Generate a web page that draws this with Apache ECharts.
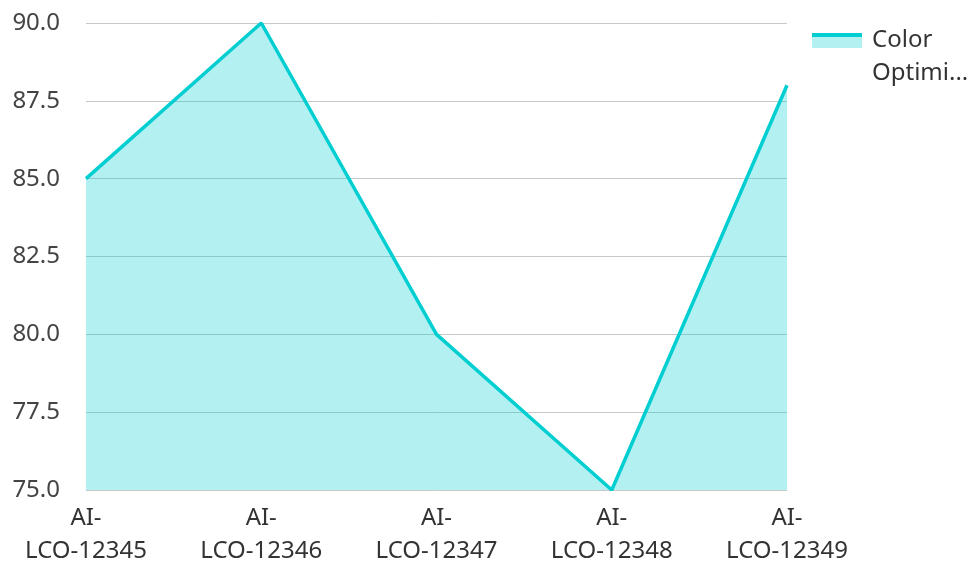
<!DOCTYPE html>
<html>
<head>
<meta charset="utf-8">
<script src="https://cdn.jsdelivr.net/npm/echarts@6/dist/echarts.min.js"></script>
<style>
  html, body { margin: 0; padding: 0; background: #fff; }
  #chart { width: 973px; height: 562px; }
</style>
</head>
<body>
<div id="chart"></div>
<script>
// Sample IDs on the category axis
const categories = ['AI-LCO-12345', 'AI-LCO-12346', 'AI-LCO-12347', 'AI-LCO-12348', 'AI-LCO-12349'];
// Score per sample
const seriesName = 'Color Optimization';
const scores = [85, 90, 80, 75, 88];

const lineColor = '#00CED1';
const areaColor = 'rgba(0, 206, 209, 0.3)';
const font = '"Noto Sans", "Open Sans", sans-serif';

const chart = echarts.init(document.getElementById('chart'));

chart.setOption({
  animation: false,
  grid: { left: 86, right: 186, top: 23, bottom: 72, containLabel: false, outerBoundsMode: 'none' },
  legend: [
    {
      // filled swatch + label; one word per line, cut to the box width,
      // with an empty first line so the first word sits beside the swatch
      left: 812,
      top: -9,
      padding: 0,
      orient: 'vertical',
      icon: 'rect',
      itemWidth: 50,
      itemHeight: 15,
      itemStyle: { color: areaColor },
      formatter: name => '\n' + name.split(' ').join('\n'),
      textStyle: {
        fontFamily: font,
        fontSize: 24,
        color: '#333',
        width: 100,
        overflow: 'truncate',
        lineHeight: 33,
        padding: [0, 0, 0, 5]
      }
    },
    {
      // line stroke along the top of the swatch
      left: 812,
      top: 33,
      padding: 0,
      orient: 'vertical',
      icon: 'rect',
      itemWidth: 50,
      itemHeight: 4,
      itemStyle: { color: lineColor },
      formatter: () => '',
      textStyle: { color: 'transparent', fontSize: 1, lineHeight: 1 }
    }
  ],
  xAxis: {
    type: 'category',
    data: categories,
    boundaryGap: false,
    axisLine: { show: false },
    axisTick: { show: false },
    axisLabel: {
      fontFamily: font,
      fontSize: 24,
      color: '#333',
      margin: 12,
      lineHeight: 33,
      interval: 0,
      formatter: v => v.replace('-', '-\n')
    }
  },
  yAxis: {
    type: 'value',
    min: 75,
    max: 90,
    interval: 2.5,
    axisLine: { show: false },
    axisTick: { show: false },
    axisLabel: {
      fontFamily: font,
      fontSize: 24,
      color: '#444',
      margin: 26,
      formatter: v => v.toFixed(1)
    },
    splitLine: { lineStyle: { color: '#c8c8c8', width: 1 } }
  },
  series: [{
    name: seriesName,
    type: 'line',
    data: scores,
    showSymbol: false,
    symbol: 'none',
    lineStyle: { color: lineColor, width: 3.5 },
    itemStyle: { color: lineColor },
    areaStyle: { color: lineColor, opacity: 0.3 }
  }]
});
</script>
</body>
</html>
